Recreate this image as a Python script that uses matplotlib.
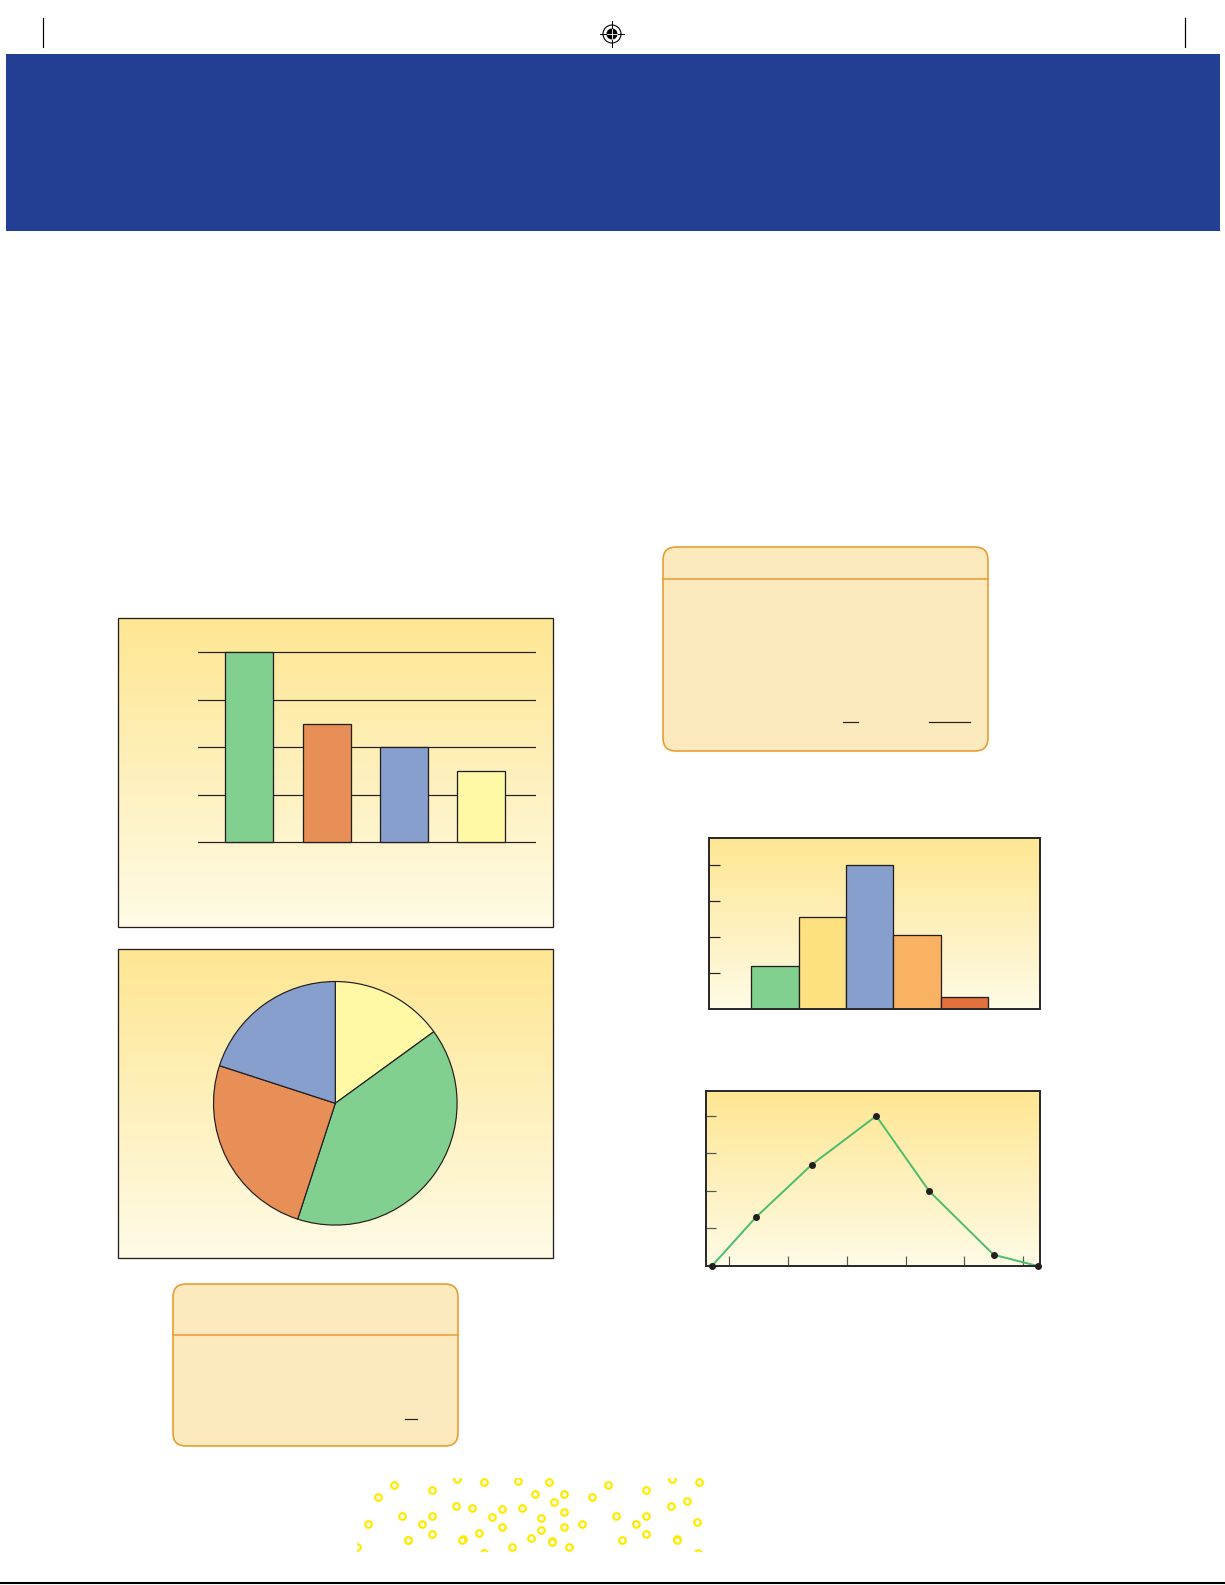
import numpy as np
import matplotlib
matplotlib.use("Agg")
import matplotlib.pyplot as plt
from matplotlib.patches import Rectangle, FancyBboxPatch, Circle

W, H = 1225, 1585

# bar chart (four bars)
bar_vals = [4, 2.5, 2, 1.5]
bar_cols = ["#82d08f", "#e88f58", "#869fcc", "#fff8a5"]

# pie chart (clockwise from top)
pie_vals = [15, 40, 25, 20]
pie_cols = ["#fff8a5", "#82d08f", "#e88f58", "#869fcc"]

# histogram
hist_vals = [6, 12.8, 20, 10.3, 1.7]
hist_cols = ["#82d08f", "#fde180", "#869fcc", "#f8b262", "#e2703a"]
hist_ticks = [5, 10, 15, 20]

# frequency polygon
poly_x = [-0.3, 0.45, 1.4, 2.5, 3.4, 4.5, 5.25]
poly_y = [0, 6.5, 13.5, 20, 10, 1.5, 0]
poly_xticks = [0, 1, 2, 3, 4, 5]
poly_yticks = [5, 10, 15, 20]

# decorative yellow rings at the bottom
dot_x = [394.3, 378, 432.3, 457.3, 484.3, 518.3, 548.7, 535, 564.3, 554.3, 608.3, 592,
         646.3, 671.7, 698.7, 402, 367.7, 422, 432.3, 456.3, 472, 502.3, 521.7, 492,
         541.3, 564.3, 502.3, 541.3, 563.7, 581.7, 616, 636, 646.3, 670.7, 687, 697,
         408.3, 432.3, 463, 478.7, 531, 552.3, 622.3, 646.3, 677, 512.3, 569.3, 357.3,
         484, 698, 408, 462, 551.6, 676.6]
dot_y = [1484.7, 1497.3, 1489.7, 1479, 1481.7, 1481.3, 1481.7, 1494, 1494.3, 1502.3, 1484.7, 1497.3,
         1489.7, 1479, 1481.7, 1515.7, 1524, 1524, 1516, 1506.3, 1508.3, 1509, 1508, 1517.3,
         1518.3, 1512, 1526.7, 1530.3, 1527.3, 1524, 1515.7, 1524.3, 1516, 1506.3, 1501.3, 1521.7,
         1540.3, 1534, 1539, 1533, 1538.3, 1541.3, 1540.3, 1534, 1539, 1547, 1547.3, 1547,
         1553, 1553, 1540.3, 1540, 1541.7, 1540]

INK = "#231f20"
PX = 0.72  # points per pixel at 100 dpi


def px_axes(x0, y0, x1, y1):
    ax = fig.add_axes([x0 / W, 1 - y1 / H, (x1 - x0) / W, (y1 - y0) / H])
    ax.set_facecolor("none")
    return ax


def gradient(x0, y0, x1, y1):
    top = np.array([254, 230, 146]) / 255
    bot = np.array([255, 251, 230]) / 255
    t = np.linspace(0, 1, 256)[:, None, None]
    arr = top * (1 - t) + bot * t
    arr = np.repeat(arr, 2, axis=1)
    bg.imshow(arr, extent=(x0, x1, y1, y0), aspect="auto", zorder=1, interpolation="bilinear")


def callout(x0, y0, x1, y1, yline):
    box = FancyBboxPatch((x0, y0), x1 - x0, y1 - y0, boxstyle="round,pad=0,rounding_size=13",
                         fc="#fde9be", ec="#e99a2c", lw=1.6 * PX, zorder=2)
    bg.add_patch(box)
    bg.plot([x0, x1], [yline, yline], color="#e99a2c", lw=1.5 * PX, zorder=3)


fig = plt.figure(figsize=(W / 100, H / 100), dpi=100)
bg = fig.add_axes([0, 0, 1, 1])
bg.set_xlim(0, W)
bg.set_ylim(H, 0)
bg.axis("off")

# crop marks and registration target
for x in [42.5, 1185]:
    bg.plot([x, x], [18, 47], color="black", lw=1.2 * PX)
bg.add_patch(Circle((612, 34), 9, fill=False, ec="black", lw=0.8))
bg.add_patch(Circle((612, 34), 5.5, fc="black", ec="none"))
bg.plot([600, 624], [34, 34], color="black", lw=0.7)
bg.plot([612, 612], [21, 47], color="black", lw=0.7)
bg.plot([607, 617], [34, 34], color="white", lw=0.6)
bg.plot([612, 612], [29, 39], color="white", lw=0.6)

# blue banner
bg.add_patch(Rectangle((6, 54), 1214, 177, fc="#233f93", ec="none"))

# bottom rule
bg.plot([0, W], [1583, 1583], color="black", lw=1.5)

# callout boxes
callout(663, 547, 988, 751, 579)
bg.plot([843.3, 857.7], [722.3, 722.3], color=INK, lw=1.2 * PX, zorder=4)
bg.plot([929, 970], [722.3, 722.3], color=INK, lw=1.2 * PX, zorder=4)
callout(173, 1284, 458, 1446, 1335)
bg.plot([405, 417], [1419, 1419], color=INK, lw=1.2 * PX, zorder=4)

# chart panels
gradient(118, 618, 553, 927)
bg.add_patch(Rectangle((118, 618), 435, 309, fill=False, ec=INK, lw=1.3 * PX, zorder=5))
gradient(118, 949, 553, 1258)
bg.add_patch(Rectangle((118, 949), 435, 309, fill=False, ec=INK, lw=1.3 * PX, zorder=5))
gradient(709, 838, 1040, 1009)
gradient(706, 1091, 1040, 1266)

# yellow rings
rings = bg.scatter(dot_x, dot_y, s=22, facecolors="white", edgecolors="#ffea00", linewidths=1.6, zorder=3)
clip = Rectangle((357, 1478), 346, 73, transform=bg.transData)
rings.set_clip_path(clip)

# bar chart
ax1 = px_axes(198, 645, 536, 850)
ax1.set_xlim(-0.664, 3.71)
ax1.set_ylim(-0.162, 4.154)
for g in range(5):
    ax1.axhline(g, color=INK, lw=1.2 * PX, zorder=1)
ax1.bar(range(4), bar_vals, width=0.62, color=bar_cols, edgecolor=INK, linewidth=1.3 * PX, zorder=2)
ax1.axis("off")

# pie chart
ax2 = px_axes(212.3, 980.3, 458.3, 1226.3)
ax2.pie(pie_vals, colors=pie_cols, startangle=90, counterclock=False, radius=1,
        wedgeprops=dict(edgecolor=INK, linewidth=1.2 * PX))
ax2.set_xlim(-1.01, 1.01)
ax2.set_ylim(-1.01, 1.01)
ax2.set_aspect("equal")
ax2.axis("off")

# histogram
ax3 = px_axes(709, 838, 1040, 1009)
ax3.bar(range(5), hist_vals, width=1, color=hist_cols, edgecolor=INK, linewidth=1.3 * PX, zorder=2)
ax3.set_xlim(-1.39, 5.59)
ax3.set_ylim(0, 23.68)
ax3.set_xticks([])
ax3.set_yticks(hist_ticks)
ax3.tick_params(axis="y", direction="in", length=11 * PX, width=1.2 * PX, color=INK, labelleft=False)
for s in ax3.spines.values():
    s.set_color("#2b2b2b")
    s.set_linewidth(2 * PX)

# frequency polygon
ax4 = px_axes(706, 1091, 1040, 1266)
ax4.plot(poly_x, poly_y, color="#4dbe6e", lw=2 * PX, zorder=2, clip_on=False)
ax4.plot(poly_x, poly_y, "o", color=INK, ms=4, zorder=3, clip_on=False)
ax4.set_xlim(-0.40, 5.29)
ax4.set_ylim(0, 23.33)
ax4.set_xticks(poly_xticks)
ax4.set_yticks(poly_yticks)
ax4.tick_params(axis="both", direction="in", length=10 * PX, width=1.2 * PX, color="#555555",
                labelleft=False, labelbottom=False)
for s in ax4.spines.values():
    s.set_color("#2b2b2b")
    s.set_linewidth(2 * PX)

fig.savefig("out.png", dpi=100)
